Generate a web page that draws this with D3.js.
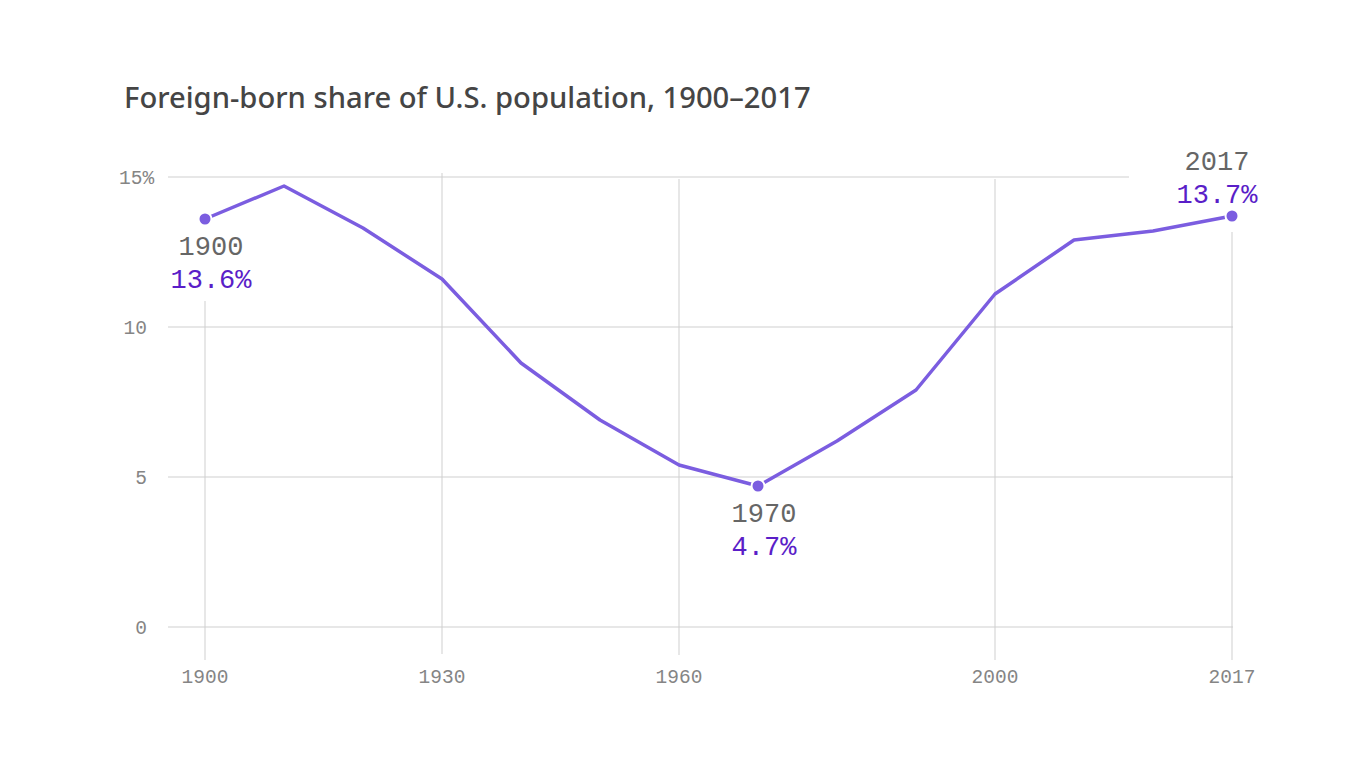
<!DOCTYPE html>
<html>
<head>
<meta charset="utf-8">
<script src="https://cdn.jsdelivr.net/npm/d3@7"></script>
<style>
  html, body { margin: 0; padding: 0; background: #fff; }
  svg { display: block; }
</style>
</head>
<body>
<svg id="chart" width="1366" height="768"></svg>
<script>
// ---- data ----
const years = ["1900","1910","1920","1930","1940","1950","1960","1970","1980","1990","2000","2010","2014","2017"];
const shares = [13.6, 14.7, 13.3, 11.6, 8.8, 6.9, 5.4, 4.7, 6.2, 7.9, 11.1, 12.9, 13.2, 13.7];
const xTickYears = ["1900","1930","1960","2000","2017"];
const yTicks = [0, 5, 10, 15];
const annotated = [
  {year: "1900", label: "1900", value: "13.6%"},
  {year: "1970", label: "1970", value: "4.7%"},
  {year: "2017", label: "2017", value: "13.7%"}
];
const titleText = "Foreign-born share of U.S. population, 1900–2017";

// ---- layout ----
const svg = d3.select("#chart");
const x = d3.scalePoint().domain(years).range([205, 1232]);
const y = d3.scaleLinear().domain([0, 15]).range([627, 177]);

const mono = "'Liberation Mono', 'DejaVu Sans Mono', monospace";
const gridColor = "#cfcfcf";

// title
const title = svg.append("text")
  .attr("x", 124).attr("y", 108)
  .attr("fill", "#454545")
  .style("font-family", "'Noto Sans', 'Open Sans', sans-serif")
  .style("font-weight", 500)
  .style("font-size", "28px")
  .text(titleText);
{
  const w = title.node().getComputedTextLength();
  title.style("font-size", (28 * 687 / w) + "px");
}

// horizontal gridlines
const gridG = svg.append("g");
gridG.selectAll("line.h").data(yTicks).join("line")
  .attr("class", "h")
  .attr("x1", 168)
  .attr("x2", d => d === 15 ? 1129 : 1233)
  .attr("y1", d => y(d)).attr("y2", d => y(d))
  .attr("stroke", gridColor).attr("stroke-width", 1);

// vertical gridlines
const vTop = {"1900": 301, "1930": 173, "1960": 179, "2000": 179, "2017": 232};
const vBot = {"1900": 660, "1930": 654, "1960": 655, "2000": 660, "2017": 660};
gridG.selectAll("line.v").data(xTickYears).join("line")
  .attr("class", "v")
  .attr("x1", d => x(d)).attr("x2", d => x(d))
  .attr("y1", d => vTop[d]).attr("y2", d => vBot[d])
  .attr("stroke", gridColor).attr("stroke-width", 1);

// y axis labels
svg.append("g").selectAll("text").data(yTicks).join("text")
  .attr("y", d => y(d))
  .attr("dy", "0.36em")
  .attr("fill", "#858585")
  .style("font-family", mono)
  .style("font-size", "19.5px")
  .each(function(d) {
    const t = d3.select(this);
    t.append("tspan").text(d);
    if (d === 15) t.append("tspan").text("%");
  })
  .attr("text-anchor", d => d === 15 ? "start" : "end")
  .attr("x", d => d === 15 ? 119 : 147);

// x axis labels
svg.append("g").selectAll("text").data(xTickYears).join("text")
  .attr("x", d => x(d))
  .attr("y", 683)
  .attr("text-anchor", "middle")
  .attr("fill", "#858585")
  .style("font-family", mono)
  .style("font-size", "19.5px")
  .text(d => d);

// line
const pts = years.map((yr, i) => ({year: yr, v: shares[i]}));
svg.append("path")
  .datum(pts)
  .attr("fill", "none")
  .attr("stroke", "#7b5de0")
  .attr("stroke-width", 3.5)
  .attr("stroke-linejoin", "round")
  .attr("d", d3.line().x(d => x(d.year)).y(d => y(d.v)));

// annotation dots
const annPts = annotated.map(a => ({...a, v: shares[years.indexOf(a.year)]}));
svg.append("g").selectAll("circle").data(annPts).join("circle")
  .attr("cx", d => x(d.year)).attr("cy", d => y(d.v))
  .attr("r", 6.5)
  .attr("fill", "#7b5de0")
  .attr("stroke", "#fff").attr("stroke-width", 2);

// annotation labels
const annPos = {
  "1900": {dx: 6, y1: 255, y2: 288},
  "1970": {dx: 6, y1: 522, y2: 555},
  "2017": {dx: -15, y1: 170, y2: 203}
};
const annG = svg.append("g").selectAll("g").data(annPts).join("g");
annG.append("text")
  .attr("x", d => x(d.year) + annPos[d.year].dx)
  .attr("y", d => annPos[d.year].y1)
  .attr("text-anchor", "middle")
  .attr("fill", "#666")
  .style("font-family", mono)
  .style("font-size", "27px")
  .text(d => d.label);
annG.append("text")
  .attr("x", d => x(d.year) + annPos[d.year].dx)
  .attr("y", d => annPos[d.year].y2)
  .attr("text-anchor", "middle")
  .attr("fill", "#5a1ec8")
  .style("font-family", mono)
  .style("font-size", "27px")
  .text(d => d.value);
</script>
</body>
</html>
